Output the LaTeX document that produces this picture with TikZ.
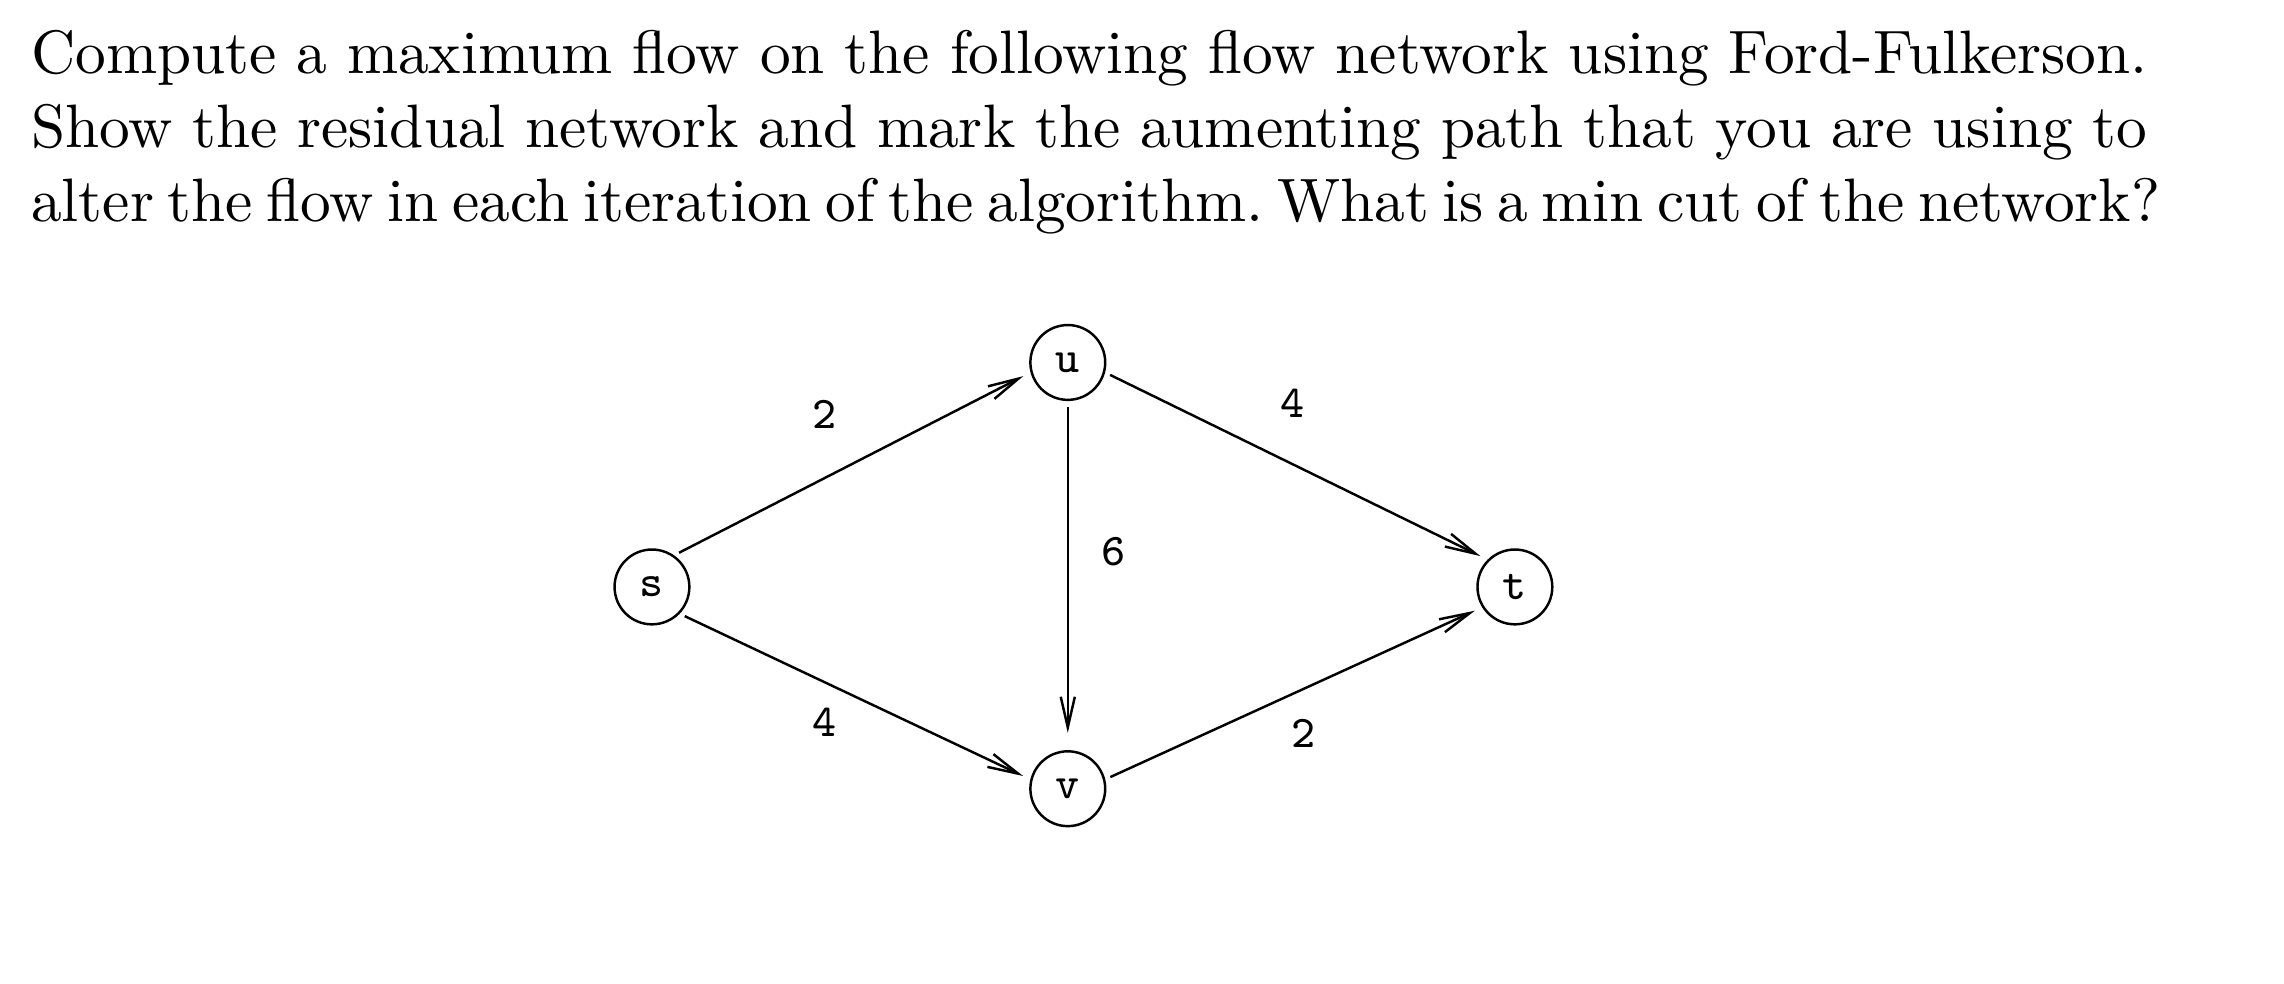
\documentclass[tikz,border=0pt]{standalone}
\usetikzlibrary{arrows.meta}
\begin{document}
\begin{tikzpicture}[x=1pt,y=1pt]

\tikzset{
  % circles for the vertices of the network
  vertex/.style={draw, circle, minimum size=12.2pt, inner sep=0pt,
    font=\fontsize{7.4}{9}\selectfont\ttfamily},
  % capacities written next to the edges
  capacity/.style={inner sep=0pt, font=\fontsize{7.4}{9}\selectfont\ttfamily},
  % edge with an open head
  flow edge/.style={-{Straight Barb[length=5pt,width=2.3pt]},
    shorten <=0.9pt, shorten >=1.3pt},
}

\useasboundingbox (0,0) rectangle (372.4,160.4);

% each line of the question is stretched to the full width
\node (task) [anchor=north west, align=left, inner sep=0pt] at (4.9,155.6)
  {\makebox[345pt][s]{Compute a maximum flow on the following flow network using Ford-Fulkerson.}\\
   \makebox[345pt][s]{Show the residual network and mark the aumenting path that you are using to}\\
   \makebox[344pt][s]{alter the flow in each iteration of the algorithm.\ What is a min cut of the network?}};

\node (s) [vertex] at (106.3,64.7) {s};
\node (u) [vertex] at (174.1,101.3) {u};
\node (v) [vertex] at (174.1,31.8) {v};
\node (t) [vertex] at (247.0,64.7) {t};

\draw [flow edge] (s.55) -- (u.195);
\draw [flow edge] (s.-44) -- (v.166);
\draw [flow edge, shorten >=2.8pt] (u.-90) -- (v.90);
\draw [flow edge] (u.-15) -- (t.135);
\draw [flow edge] (v.14) -- (t.212);

\node (su) [capacity] at (134.4,92.8) {2};
\node (ut) [capacity] at (210.8,94.7) {4};
\node (uv) [capacity] at (181.5,70.4) {6};
\node (sv) [capacity] at (134.5,42.6) {4};
\node (vt) [capacity] at (212.5,40.8) {2};

\end{tikzpicture}
\end{document}
